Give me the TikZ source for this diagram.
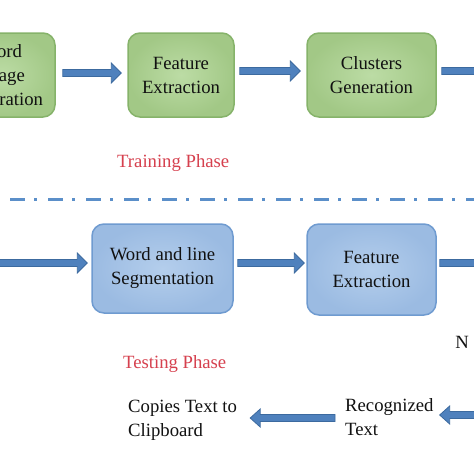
\documentclass[tikz,border=0pt]{standalone}
\usepackage{fontspec}
\setmainfont{Liberation Serif}
\usetikzlibrary{calc}
\definecolor{gin}{HTML}{BCDCA5}
\definecolor{gout}{HTML}{A2C886}
\definecolor{gline}{HTML}{86B36A}
\definecolor{bin}{HTML}{B4CEEC}
\definecolor{bout}{HTML}{9BBBE2}
\definecolor{bline}{HTML}{6F9BD0}
\definecolor{afill}{HTML}{4F81BD}
\definecolor{aline}{HTML}{3C6A9F}
\definecolor{phasered}{HTML}{D6404E}
\definecolor{txt}{HTML}{111111}
\definecolor{sepblue}{HTML}{5B8FC9}
\tikzset{
  lbl/.style={font=\fontsize{18.7}{24}\selectfont, text=txt},
  greenbox/.style={lbl, draw=gline, inner color=gin, outer color=gout, line width=1.5pt, rounded corners=12pt, align=center, inner sep=0pt},
  bluebox/.style={lbl, draw=bline, inner color=bin, outer color=bout, line width=1.5pt, rounded corners=12pt, align=center, inner sep=0pt},
  plain/.style={lbl, align=left, inner sep=0pt},
  phase/.style={font=\fontsize{18.7}{24}\selectfont, text=phasered, inner sep=0pt},
  blockarrow/.style={fill=afill, draw=aline, line width=0.8pt, line join=miter},
  sepline/.style={draw=sepblue, line width=3pt, dash pattern=on 15pt off 9pt on 3pt off 11pt}
}
\newcommand\rblockarrow[2]{%
  \filldraw[blockarrow] ($(#1)+(0,-3.5)$) -- ($(#2)+(-10,-3.5)$) -- ($(#2)+(-10,-10)$) -- (#2)
    -- ($(#2)+(-10,10)$) -- ($(#2)+(-10,3.5)$) -- ($(#1)+(0,3.5)$) -- cycle;}
\newcommand\lblockarrow[2]{%
  \filldraw[blockarrow] ($(#1)+(0,-3.5)$) -- ($(#2)+(10,-3.5)$) -- ($(#2)+(10,-9)$) -- (#2)
    -- ($(#2)+(10,9)$) -- ($(#2)+(10,3.5)$) -- ($(#1)+(0,3.5)$) -- cycle;}
\begin{document}
\begin{tikzpicture}[x=1pt,y=-1pt]
\useasboundingbox (0,0) rectangle (474,474);
\fill[white] (0,0) rectangle (474,474);
\clip (0,0) rectangle (474,474);

% training row
\node[greenbox, minimum width=107pt, minimum height=84pt] (b1) at (1.5,75) {Word\\Image\\Generation};
\node[greenbox, minimum width=106pt, minimum height=84pt] (b2) at (181,75) {Feature\\Extraction};
\node[greenbox, minimum width=129pt, minimum height=84pt] (b3) at (371.5,75) {Clusters\\Generation};

\coordinate (a1s) at ($(b1.east)+(7,-2)$);
\coordinate (a1e) at ($(b2.west)+(-6,-2)$);
\coordinate (a2s) at ($(b2.east)+(5,-4)$);
\coordinate (a2e) at ($(b3.west)+(-6,-4)$);
\coordinate (a3s) at ($(b3.east)+(5,-4)$);
\coordinate (a3e) at (500,71);
\rblockarrow{a1s}{a1e}
\rblockarrow{a2s}{a2e}
\rblockarrow{a3s}{a3e}

\node[phase, anchor=west] (train) at (117,163) {Training Phase};

\coordinate (sepL) at (10,199);
\coordinate (sepR) at (480,199);
\draw[sepline] (sepL) -- (sepR);

% testing row
\node[bluebox, minimum width=141pt, minimum height=89pt] (b4) at (162.5,268.5) {Word and line\\Segmentation};
\node[bluebox, minimum width=129pt, minimum height=91pt] (b5) at (371.5,269.5) {Feature\\Extraction};

\coordinate (a4s) at (-10,263);
\coordinate (a4e) at ($(b4.west)+(-4,-5.5)$);
\coordinate (a5s) at ($(b4.east)+(4,-5.5)$);
\coordinate (a5e) at ($(b5.west)+(-2,-6.5)$);
\coordinate (a6s) at ($(b5.east)+(3,-6.5)$);
\coordinate (a6e) at (500,263);
\rblockarrow{a4s}{a4e}
\rblockarrow{a5s}{a5e}
\rblockarrow{a6s}{a6e}

\node[lbl, inner sep=0pt] (n) at (462,342) {N};
\node[phase, anchor=west] (test) at (123,364) {Testing Phase};

\node[plain, anchor=west] (copies) at (128,420.5) {Copies Text to\\Clipboard};
\node[plain, anchor=west] (recog) at (345,417.5) {Recognized\\Text};

\coordinate (a7s) at ($(recog.west)+(-10,0.5)$);
\coordinate (a7e) at ($(copies.east)+(13,-2.5)$);
\coordinate (a8s) at (500,415);
\coordinate (a8e) at ($(recog.east)+(6,-2.5)$);
\lblockarrow{a7s}{a7e}
\lblockarrow{a8s}{a8e}
\end{tikzpicture}
\end{document}
